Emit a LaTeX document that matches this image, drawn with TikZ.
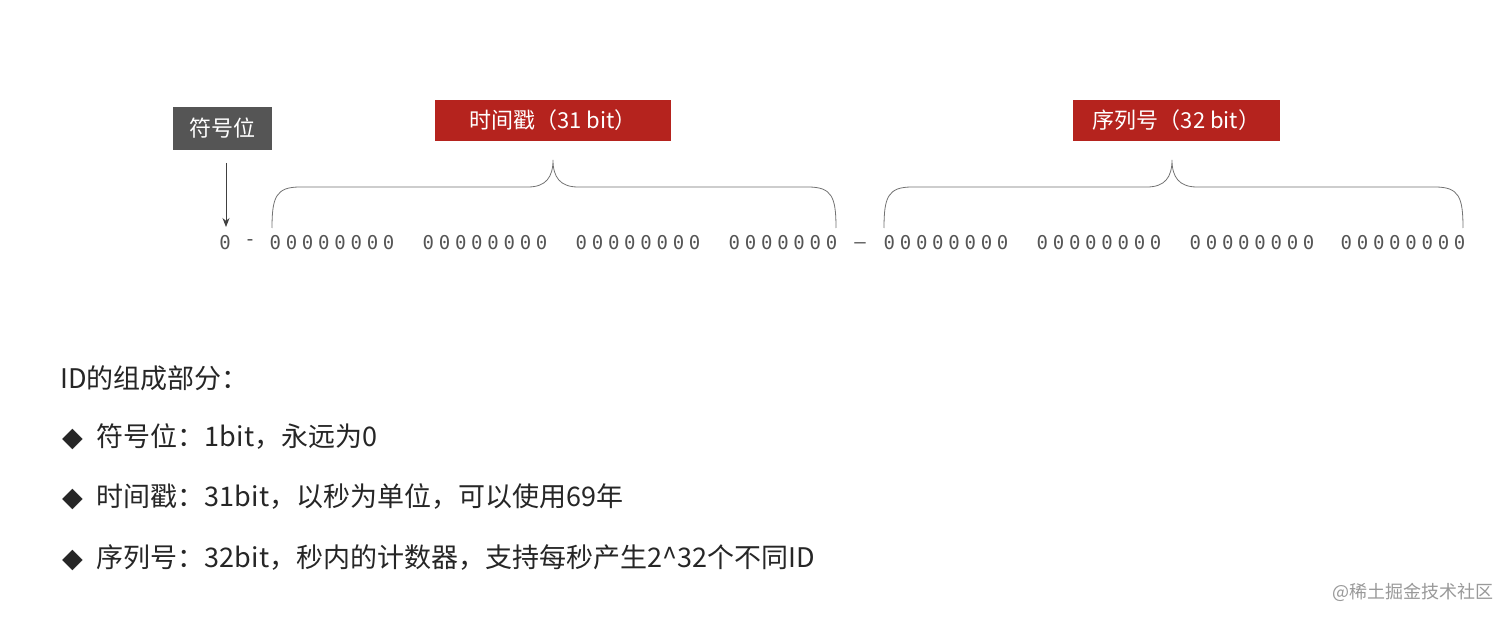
\documentclass[tikz,border=0pt]{standalone}
\usetikzlibrary{arrows.meta}
\usepackage{fontspec}
\setmainfont{Noto Sans CJK SC}
\newfontfamily\cjk{Noto Sans CJK SC}
\newfontfamily\bitfont[LetterSpace=25]{DejaVu Sans Mono}
\newfontfamily\sym{DejaVu Sans}
\definecolor{redbox}{HTML}{B5231E}
\definecolor{graybox}{HTML}{555555}
\definecolor{bitgray}{HTML}{555555}
\tikzset{
 tag/.style={inner sep=0pt,text=white,font=\cjk\fontsize{22}{26}\selectfont},
 bits/.style={text=bitgray,font=\bitfont\fontsize{19}{22}\selectfont,inner sep=0pt},
 brace/.style={draw=black!55,line width=0.8pt},
 line/.style={anchor=west,inner sep=0pt,font=\cjk\fontsize{27}{32}\selectfont,text=black!85},
}
\begin{document}
\begin{tikzpicture}[x=1pt,y=-1pt]
\useasboundingbox[fill=white] (0,0) rectangle (1512,620);
% tags
\node[tag,fill=graybox,minimum width=99pt,minimum height=43pt] (sign) at (222.5,128.5) {符号位};
\node[tag,fill=redbox,minimum width=236pt,minimum height=41pt] (ts) at (553,120.5) {时间戳（31 bit）};
\node[tag,fill=redbox,minimum width=207pt,minimum height=41pt] (seq) at (1176.5,120.5) {序列号（32 bit）};
% bits
\node[bits] (b0) at (225,243) {0};
\node[bits] (d1) at (250,243) {-};
\node[bits] (g1) at (332,243) {00000000};
\node[bits] (g2) at (485,243) {00000000};
\node[bits] (g3) at (638,243) {00000000};
\node[bits] (g4) at (783,243) {0000000};
\node[bits] (d2) at (860,246) {–};
\node[bits] (g5) at (946,243) {00000000};
\node[bits] (g6) at (1099,243) {00000000};
\node[bits] (g7) at (1252,243) {00000000};
\node[bits] (g8) at (1403,243) {00000000};
% arrow
\coordinate (astart) at (226,163);
\coordinate (aend) at (226,227);
\draw[-{Stealth[length=9pt,width=7pt]},line width=0.9pt,black!75] (astart) -- (aend);
% braces
\coordinate (t1) at (553,160);
\draw[brace] (272,228) .. controls (272,197) and (276,187) .. (300,187) -- (528,187)
  .. controls (546,187) and (553,177) .. (t1) .. controls (553,177) and (560,187) .. (578,187)
  -- (808,187) .. controls (832,187) and (836,197) .. (836,228);
\coordinate (t2) at (1172,160);
\draw[brace] (884,228) .. controls (884,197) and (888,187) .. (912,187) -- (1147,187)
  .. controls (1165,187) and (1172,177) .. (t2) .. controls (1172,177) and (1179,187) .. (1197,187)
  -- (1435,187) .. controls (1459,187) and (1463,197) .. (1463,228);
% text
\node[line] (title) at (60,378) {ID的组成部分：};
\node[line] (l1) at (62,437) {{\sym ◆}\hspace{14pt}符号位：1bit，永远为0};
\node[line] (l2) at (62,497) {{\sym ◆}\hspace{14pt}时间戳：31bit，以秒为单位，可以使用69年};
\node[line] (l3) at (62,558) {{\sym ◆}\hspace{14pt}序列号：32bit，秒内的计数器，支持每秒产生2\^{}32个不同ID};
\node[anchor=east,inner sep=0pt,text=black!40,font=\cjk\fontsize{18}{21}\selectfont] (wm) at (1494,592) {@稀土掘金技术社区};
\end{tikzpicture}
\end{document}
